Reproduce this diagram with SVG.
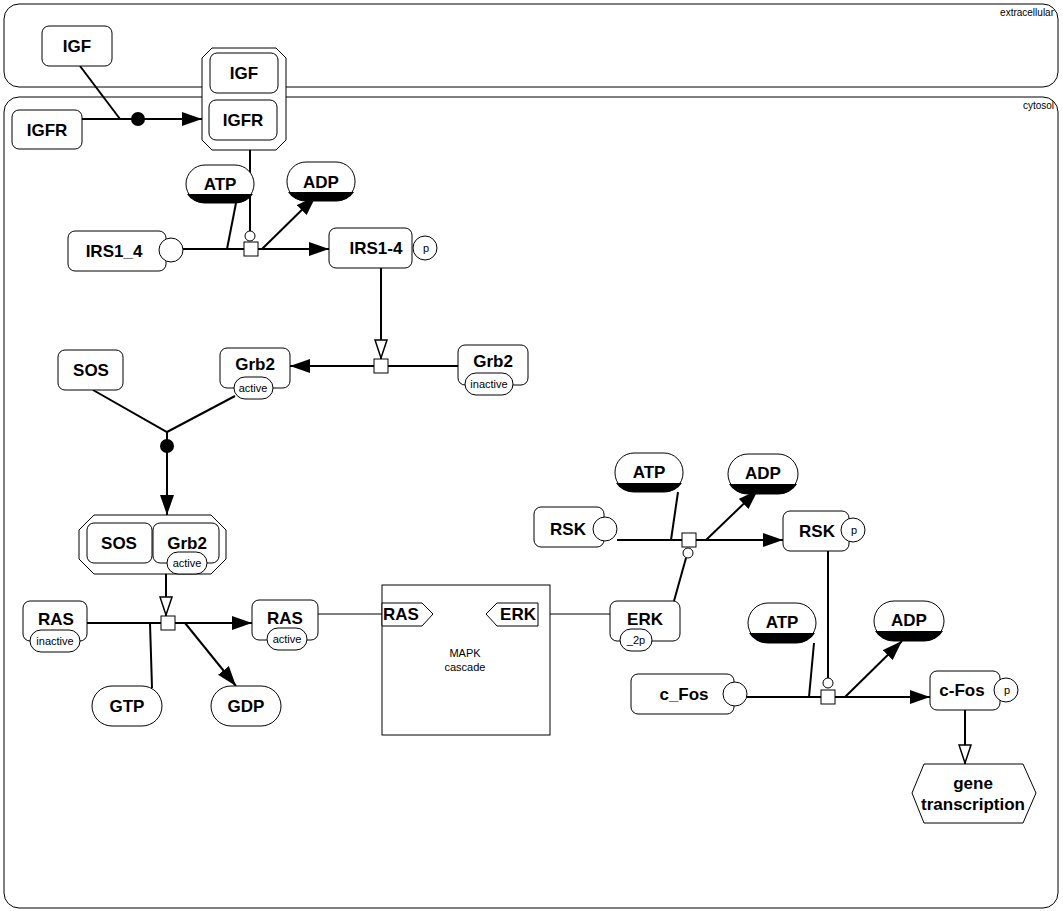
<svg xmlns="http://www.w3.org/2000/svg" width="1063" height="911" viewBox="0 0 1063 911">
<style>
.c{fill:none;stroke:#000;stroke-width:1}
.n{fill:#fff;stroke:#000;stroke-width:1}
.t{font-family:"Liberation Sans",Arial,sans-serif;font-weight:bold;font-size:17px;text-anchor:middle}
.s{font-family:"Liberation Sans",Arial,sans-serif;font-size:11px;text-anchor:middle}
.cl{font-family:"Liberation Sans",Arial,sans-serif;font-size:10px;text-anchor:end}
.e{fill:none;stroke:#000;stroke-width:2}
.e1{fill:none;stroke:#000;stroke-width:1}
</style>
<defs>
<marker id="a2" viewBox="0 0 20 14" refX="20" refY="7" markerWidth="20" markerHeight="14" markerUnits="userSpaceOnUse" orient="auto"><path d="M0,0 L20,7 L0,14 z" fill="#000"/></marker>
<marker id="o" viewBox="0 0 20 14" refX="20" refY="7" markerWidth="20" markerHeight="14" markerUnits="userSpaceOnUse" orient="auto"><path d="M1,1 L19,7 L1,13 z" fill="#fff" stroke="#000" stroke-width="1.5"/></marker>
</defs>
<g id="compartments">
<rect x="4" y="4" width="1054" height="83" rx="15" class="c"/>
<text x="1054" y="16" class="cl">extracellular</text>
<rect x="4" y="97" width="1054" height="811" rx="15" class="c"/>
<text x="1054" y="109" class="cl">cytosol</text>
</g>
<g id="connectors">
<polyline points="80,66 120,119" class="e"/>
<line x1="82" y1="119" x2="202" y2="119" class="e" marker-end="url(#a2)"/>
<line x1="250" y1="150" x2="250" y2="231" class="e"/>
<line x1="183" y1="249" x2="244" y2="249" class="e"/>
<line x1="236" y1="203" x2="227" y2="249" class="e"/>
<line x1="258" y1="249" x2="329" y2="249" class="e" marker-end="url(#a2)"/>
<line x1="262" y1="249" x2="316" y2="196" class="e" marker-end="url(#a2)"/>
<line x1="381" y1="268" x2="381" y2="359" class="e" marker-end="url(#o)"/>
<line x1="458" y1="366" x2="388" y2="366" class="e"/>
<line x1="374" y1="366" x2="290" y2="366" class="e" marker-end="url(#a2)"/>
<polyline points="93,390 167,432 235,396" class="e"/>
<line x1="167" y1="432" x2="167" y2="515" class="e" marker-end="url(#a2)"/>
<line x1="166" y1="574" x2="166" y2="616" class="e" marker-end="url(#o)"/>
<line x1="87" y1="623" x2="161" y2="623" class="e"/>
<line x1="152" y1="688" x2="150" y2="623" class="e"/>
<line x1="175" y1="623" x2="252" y2="623" class="e" marker-end="url(#a2)"/>
<line x1="185" y1="623" x2="236" y2="686" class="e" marker-end="url(#a2)"/>
<line x1="318" y1="614" x2="382" y2="614" class="e1"/>
<line x1="538" y1="614" x2="610" y2="614" class="e1"/>
<line x1="617" y1="540" x2="682" y2="540" class="e"/>
<line x1="678" y1="492" x2="671" y2="540" class="e"/>
<line x1="696" y1="540" x2="783" y2="540" class="e" marker-end="url(#a2)"/>
<line x1="706" y1="540" x2="758" y2="490" class="e" marker-end="url(#a2)"/>
<line x1="674" y1="601" x2="686" y2="558" class="e"/>
<line x1="828" y1="551" x2="828" y2="678" class="e"/>
<line x1="747" y1="697" x2="821" y2="697" class="e"/>
<line x1="814" y1="643" x2="809" y2="697" class="e"/>
<line x1="835" y1="697" x2="930" y2="697" class="e" marker-end="url(#a2)"/>
<line x1="845" y1="697" x2="902" y2="641" class="e" marker-end="url(#a2)"/>
<line x1="965" y1="710" x2="965" y2="764" class="e" marker-end="url(#o)"/>
<circle cx="138" cy="119" r="7" fill="#000"/>
<circle cx="167" cy="446" r="7" fill="#000"/>
<circle cx="250" cy="236" r="5" class="n" stroke-width="1.5"/>
<rect x="244" y="242" width="14" height="14" class="n"/>
<rect x="374" y="359" width="14" height="14" class="n"/>
<rect x="161" y="616" width="14" height="14" class="n"/>
<circle cx="688" cy="553" r="5" class="n" stroke-width="1.5"/>
<rect x="682" y="533" width="14" height="14" class="n"/>
<circle cx="828" cy="683" r="5" class="n" stroke-width="1.5"/>
<rect x="821" y="690" width="14" height="14" class="n"/>
</g>
<g id="IGF"><rect x="42" y="26" width="70" height="40" rx="7" class="n"/><text x="77" y="52" class="t">IGF</text></g>
<g id="IGFR"><rect x="12" y="110" width="70" height="39" rx="7" class="n"/><text x="47" y="136" class="t">IGFR</text></g>
<g id="IGF_IGFR">
<polygon points="212,48 276,48 286,58 286,140 276,150 212,150 202,140 202,58" class="n"/>
<rect x="210" y="53" width="68" height="40" rx="7" class="n"/><text x="244" y="79" class="t">IGF</text>
<rect x="209" y="100" width="68" height="40" rx="7" class="n"/><text x="243" y="126" class="t">IGFR</text>
</g>
<g id="ATP1"><rect x="186" y="165" width="68" height="38" rx="19" class="n"/><path d="M187,194 H253 A19,19 0 0 1 235,203 H205 A19,19 0 0 1 187,194 Z"/><text x="220" y="190" class="t">ATP</text></g>
<g id="ADP1"><rect x="287" y="162" width="68" height="39" rx="19" class="n"/><path d="M288,192 H354 A19,19 0 0 1 336,201 H306 A19,19 0 0 1 288,192 Z"/><text x="321" y="188" class="t">ADP</text></g>
<g id="IRS1_4"><rect x="68" y="231" width="98" height="40" rx="7" class="n"/><circle cx="171" cy="250" r="12" class="n"/><text x="114" y="257" class="t">IRS1_4</text></g>
<g id="IRS1-4p"><rect x="329" y="228" width="83" height="40" rx="7" class="n"/><circle cx="425" cy="248" r="12" class="n"/><text x="426" y="252" class="s">p</text><text x="376" y="254" class="t">IRS1-4</text></g>
<g id="Grb2_inactive"><rect x="458" y="345" width="70" height="40" rx="7" class="n"/><text x="493" y="367" class="t">Grb2</text><rect x="465" y="373" width="48" height="22" rx="11" class="n"/><text x="489" y="388" class="s">inactive</text></g>
<g id="Grb2_active"><rect x="220" y="348" width="70" height="40" rx="7" class="n"/><text x="255" y="370" class="t">Grb2</text><rect x="234" y="377" width="39" height="22" rx="11" class="n"/><text x="253" y="392" class="s">active</text></g>
<g id="SOS"><rect x="58" y="350" width="65" height="40" rx="7" class="n"/><text x="91" y="376" class="t">SOS</text></g>
<g id="SOS_Grb2">
<polygon points="94,515 211,515 226,530 226,559 211,574 94,574 79,559 79,530" class="n"/>
<rect x="87" y="523" width="65" height="40" rx="7" class="n"/><text x="119" y="549" class="t">SOS</text>
<rect x="153" y="523" width="66" height="40" rx="7" class="n"/><text x="187" y="549" class="t">Grb2</text>
<rect x="167" y="552" width="40" height="22" rx="11" class="n"/><text x="187" y="567" class="s">active</text>
</g>
<g id="RAS_inactive"><rect x="23" y="601" width="64" height="40" rx="7" class="n"/><text x="56" y="625" class="t">RAS</text><rect x="30" y="630" width="50" height="22" rx="11" class="n"/><text x="55" y="645" class="s">inactive</text></g>
<g id="RAS_active"><rect x="252" y="600" width="66" height="40" rx="7" class="n"/><text x="285" y="624" class="t">RAS</text><rect x="267" y="628" width="40" height="22" rx="11" class="n"/><text x="287" y="643" class="s">active</text></g>
<g id="GTP"><rect x="92" y="686" width="70" height="40" rx="20" class="n"/><text x="127" y="712" class="t">GTP</text></g>
<g id="GDP"><rect x="211" y="686" width="70" height="40" rx="20" class="n"/><text x="246" y="712" class="t">GDP</text></g>
<g id="MAPK">
<rect x="382" y="585" width="168" height="150" class="n"/>
<polygon points="382,603 422,603 433,614 422,626 382,626" class="n"/><text x="401" y="620" class="t">RAS</text>
<polygon points="538,603 497,603 486,614 497,626 538,626" class="n"/><text x="518" y="620" class="t">ERK</text>
<text x="465" y="657" class="s">MAPK</text><text x="465" y="671" class="s">cascade</text>
</g>
<g id="ERK"><rect x="610" y="601" width="70" height="40" rx="7" class="n"/><text x="645" y="625" class="t">ERK</text><rect x="620" y="629" width="32" height="22" rx="11" class="n"/><text x="636" y="644" class="s">_2p</text></g>
<g id="ATP2"><rect x="615" y="453" width="68" height="39" rx="19" class="n"/><path d="M616,483 H682 A19,19 0 0 1 664,492 H634 A19,19 0 0 1 616,483 Z"/><text x="649" y="478" class="t">ATP</text></g>
<g id="ADP2"><rect x="728" y="454" width="70" height="40" rx="20" class="n"/><path d="M729,484 H797 A20,20 0 0 1 778,494 H748 A20,20 0 0 1 729,484 Z"/><text x="763" y="479" class="t">ADP</text></g>
<g id="RSK"><rect x="534" y="507" width="70" height="40" rx="7" class="n"/><circle cx="605" cy="529" r="12" class="n"/><text x="568" y="535" class="t">RSK</text></g>
<g id="RSKp"><rect x="783" y="511" width="66" height="40" rx="7" class="n"/><circle cx="853" cy="530" r="12" class="n"/><text x="854" y="534" class="s">p</text><text x="817" y="537" class="t">RSK</text></g>
<g id="ATP3"><rect x="748" y="603" width="68" height="40" rx="20" class="n"/><path d="M749,633 H815 A20,20 0 0 1 796,643 H768 A20,20 0 0 1 749,633 Z"/><text x="782" y="628" class="t">ATP</text></g>
<g id="ADP3"><rect x="874" y="601" width="70" height="40" rx="20" class="n"/><path d="M875,631 H943 A20,20 0 0 1 924,641 H894 A20,20 0 0 1 875,631 Z"/><text x="909" y="626" class="t">ADP</text></g>
<g id="c_Fos"><rect x="631" y="674" width="103" height="40" rx="7" class="n"/><circle cx="735" cy="694" r="12" class="n"/><text x="684" y="700" class="t">c_Fos</text></g>
<g id="c-Fosp"><rect x="930" y="671" width="70" height="39" rx="7" class="n"/><circle cx="1006" cy="690" r="12" class="n"/><text x="1007" y="694" class="s">p</text><text x="962" y="696" class="t">c-Fos</text></g>
<g id="gene_transcription"><polygon points="924,764 1023,764 1036,793 1023,823 924,823 912,793" class="n"/><text x="973" y="789" class="t">gene</text><text x="973" y="810" class="t">transcription</text></g>
</svg>
